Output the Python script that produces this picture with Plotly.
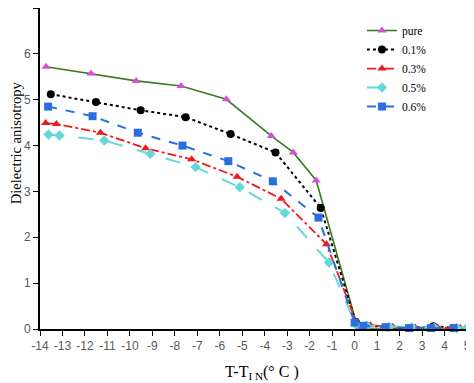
import plotly.graph_objects as go

# data
pure_x = [-13.73, -11.73, -9.72, -7.72, -5.71, -3.71, -2.73, -1.71, 0.15, 1.35, 2.35, 3.35, 4.35]
pure_y = [5.72, 5.57, 5.41, 5.30, 5.01, 4.21, 3.85, 3.24, 0.0, 0.0, 0.01, 0.0, 0.0]

p01_x = [-13.52, -11.51, -9.52, -7.52, -5.52, -3.52, -1.51, 0.05, 0.5, 1.5, 2.5, 3.5, 4.5]
p01_y = [5.12, 4.95, 4.77, 4.62, 4.25, 3.85, 2.64, 0.15, 0.07, 0.04, 0.02, 0.06, 0.02]

p03_x = [-13.75, -13.27, -11.31, -9.30, -7.25, -5.23, -3.27, -1.25, 0.1, 0.7, 1.7, 2.7, 3.7, 4.7]
p03_y = [4.49, 4.47, 4.28, 3.94, 3.70, 3.32, 2.84, 1.85, 0.12, 0.08, 0.05, 0.03, 0.03, 0.02]

p05_x = [-13.62, -13.13, -11.14, -9.09, -7.08, -5.11, -3.10, -1.14, 0.05, 0.55, 1.55, 2.55, 3.55, 4.55, 5.0]
p05_y = [4.24, 4.22, 4.11, 3.82, 3.53, 3.09, 2.53, 1.45, 0.10, 0.07, 0.05, 0.04, 0.03, 0.02, 0.03]

p06_x = [-13.64, -11.66, -9.65, -7.66, -5.62, -3.64, -1.61, 0.0, 0.39, 1.38, 2.42, 3.39, 4.4]
p06_y = [4.85, 4.64, 4.28, 4.00, 3.66, 3.22, 2.43, 0.14, 0.07, 0.04, 0.02, 0.02, 0.02]

x_ticks = list(range(-14, 6))
y_ticks = list(range(0, 8))

fig = go.Figure()

def add(name, xs, ys, lcolor, dash, width, mcolor, symbol, msize):
    fig.add_trace(go.Scatter(
        x=xs, y=ys, name=name, mode="lines+markers",
        line=dict(color=lcolor, dash=dash, width=width),
        marker=dict(color=mcolor, symbol=symbol, size=msize),
        cliponaxis=False,
    ))

add("pure", pure_x, pure_y, "#3C7A24", "solid", 1.6, "#D84ED8", "triangle-up", 8)
add("0.1%", p01_x, p01_y, "#000000", "dot", 2, "#000000", "circle", 8)
add("0.3%", p03_x, p03_y, "#F01818", "dashdot", 1.8, "#F01818", "triangle-up", 8)
add("0.5%", p05_x, p05_y, "#66D8D8", "longdash", 2, "#66D8D8", "diamond", 8)
add("0.6%", p06_x, p06_y, "#2A6FE0", "dash", 2, "#2A6FE0", "square", 8)

tickfont = dict(family="Liberation Sans, Arial", size=12, color="#595959")
serif = "Liberation Serif, Times New Roman"

fig.update_layout(
    width=466, height=375,
    margin=dict(l=32, r=7, t=0, b=54, autoexpand=False),
    paper_bgcolor="white", plot_bgcolor="white",
    showlegend=True,
    legend=dict(x=0.754, y=0.975, xanchor="left", yanchor="top",
                font=dict(family=serif, size=11.5, color="#000"),
                bgcolor="rgba(0,0,0,0)", tracegroupgap=0, itemwidth=30),
    xaxis=dict(range=[-14, 5], tickvals=x_ticks, ticktext=[str(v) for v in x_ticks],
               showgrid=False, zeroline=False, showline=True, mirror=True, automargin=False,
               linecolor="#000", linewidth=2, ticks="outside", ticklen=5, tickcolor="#000",
               tickfont=tickfont),
    yaxis=dict(range=[0, 7], tickvals=y_ticks, ticktext=[str(v) for v in y_ticks],
               showgrid=False, zeroline=False, showline=True, mirror=True, automargin=False,
               linecolor="#000", linewidth=2, ticks="outside", ticklen=5, tickcolor="#000",
               tickfont=tickfont),
    annotations=[
        dict(text="T-T<sub>I N</sub>(° C )", xref="paper", yref="paper",
             x=0.52, y=-0.134, xanchor="center", yanchor="middle",
             showarrow=False, font=dict(family=serif, size=16, color="#000")),
        dict(text="Dielectric anisotropy", xref="paper", yref="paper",
             x=-0.056, y=0.579, xanchor="center", yanchor="middle",
             textangle=-90, showarrow=False, font=dict(family=serif, size=14.5, color="#000")),
    ],
)

fig.write_html("out.html")
